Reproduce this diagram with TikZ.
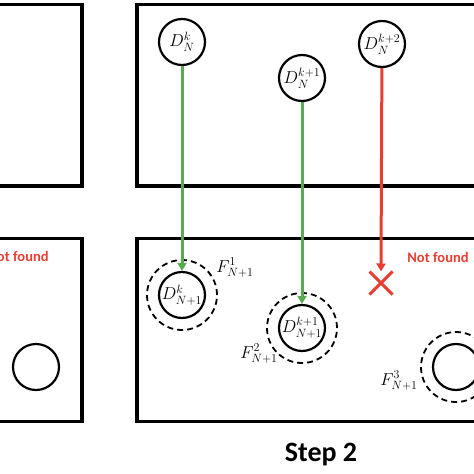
\documentclass[tikz,border=0pt]{standalone}
\usepackage{amsmath}
\usepackage{fontspec}
\newfontfamily\labelfont{Carlito}
\DeclareMathSizes{17.5}{17.5}{13}{10}
\DeclareMathSizes{16.5}{16.5}{12.5}{9.5}
\usetikzlibrary{positioning, arrows.meta, shapes.misc}
\definecolor{okgreen}{RGB}{88,170,82}
\definecolor{lostred}{RGB}{232,62,50}
\tikzset{
    frame/.style={draw, line width=3.6pt},
    drop/.style={circle, draw, line width=2.2pt, minimum size=46pt, inner sep=0pt, font=\fontsize{17.5}{20}\selectfont},
    ring/.style={circle, draw, line width=1.8pt, dash pattern=on 6pt off 4pt, minimum size=70pt, inner sep=0pt},
    flabel/.style={inner sep=0pt, font=\fontsize{16.5}{19}\selectfont},
    found/.style={->, >={Triangle[length=8pt, width=9pt]}, line width=3pt, okgreen},
    lost/.style={->, >={Triangle[length=8pt, width=9pt]}, line width=3pt, lostred},
    notfound/.style={lostred, inner sep=0pt, font=\labelfont\bfseries\fontsize{14.5}{16}\selectfont}
}
\begin{document}
\begin{tikzpicture}[x=1pt, y=-1pt]
        \useasboundingbox (0,0) rectangle (474,474);
        \clip (0,0) rectangle (474,474);
        %---------------------------
        \draw[frame] (-20,4.5) rectangle (82,186);
        \draw[frame] (137,4.5) rectangle (490,186);
        \draw[frame] (-20,238.5) rectangle (82,421.5);
        \draw[frame] (137,238.5) rectangle (490,421.5);
        %---------------------------
        \node[drop] (dk) at (182,42) {$D_N^k$};
        \node[drop] (dk1) at (302,78) {$D_N^{k+1}$};
        \node[drop] (dk2) at (382,44) {$D_N^{k+2}$};
        \node[drop] (ek) at (182,295) {$D_{N+1}^k$};
        \node[drop] (ek1) at (302,328) {$D_{N+1}^{k+1}$};
        \node[drop] (e3) at (456,367) {};
        \node[drop] (e0) at (36,367) {};
        \node[ring] (f1) at (ek) {};
        \node[ring] (f2) at (ek1) {};
        \node[ring] (f3) at (e3) {};
        \node[draw=lostred, cross out, line width=3pt, minimum size=20pt, inner sep=0pt] (miss) at (381,283) {};
        %---------------------------
        \node[flabel] (fl1) at (235,268) {$F_{N+1}^1$};
        \node[flabel] (fl2) at (259,354) {$F_{N+1}^2$};
        \node[flabel] (fl3) at (399,381) {$F_{N+1}^3$};
        \node[notfound] (nf) at (438,257) {Not found};
        \node[notfound] (nf0) at (18,256) {Not found};
        \node[inner sep=0pt, font=\labelfont\bfseries\fontsize{28}{30}\selectfont] (step) at (321,455) {Step 2};
        %--------------------------
        \path[found] (dk) edge (ek);
        \path[found] (dk1) edge (ek1);
        \path[lost] (dk2) edge (miss.north);
        \end{tikzpicture}
\end{document}
